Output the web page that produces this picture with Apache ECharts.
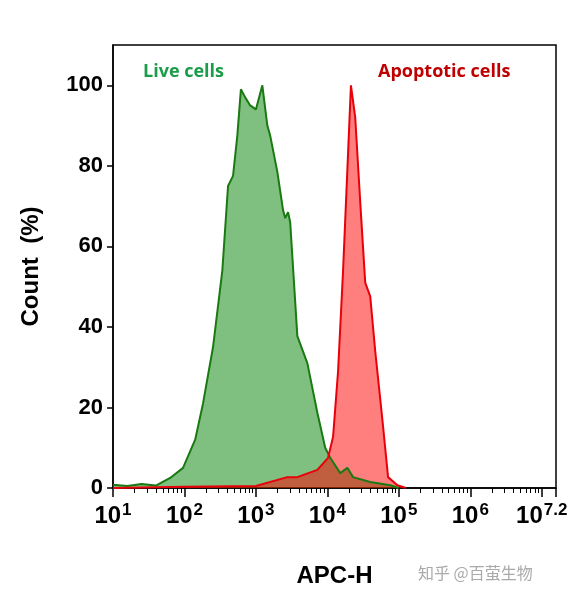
<!DOCTYPE html>
<html>
<head>
<meta charset="utf-8">
<script src="https://cdn.jsdelivr.net/npm/echarts@6/dist/echarts.min.js"></script>
<style>html,body{margin:0;padding:0;background:#fff}#c{width:588px;height:600px}</style>
</head>
<body>
<div id="c"></div>
<script>
// x values are log10(APC-H)
const liveX = [1.0, 1.2, 1.4, 1.6, 1.8, 1.98, 2.15, 2.26, 2.40, 2.53, 2.61, 2.68, 2.74, 2.79, 2.85, 2.92, 3.00, 3.09, 3.16, 3.20, 3.30, 3.38, 3.41, 3.45, 3.48, 3.58, 3.72, 3.86, 3.97, 4.04, 4.18, 4.28, 4.36, 4.60, 4.88, 5.0];
const liveY = [0.8, 0.5, 1.0, 0.6, 2.5, 5, 12, 21, 35, 54, 75, 77.5, 87.5, 99, 97, 95, 94, 100, 90, 87.5, 78.5, 69, 67, 68.5, 66, 37.7, 31, 18.7, 10, 7.5, 3.7, 5, 2.7, 1.5, 0.7, 0];
const apopX = [1.0, 2.0, 3.0, 3.44, 3.58, 3.86, 4.01, 4.08, 4.15, 4.22, 4.28, 4.33, 4.39, 4.46, 4.53, 4.60, 4.67, 4.77, 4.85, 4.98, 5.1];
const apopY = [0, 0.3, 0.5, 2.7, 2.7, 4.5, 7.5, 12.7, 29, 54, 79, 100, 92, 71, 51, 47.6, 34, 17, 2.7, 0.7, 0];
const majorTicks = [1, 2, 3, 4, 5, 6, 7, 7.2];
const labelTicks = [1, 2, 3, 4, 5, 6, 7];
const yTicks = [0, 20, 40, 60, 80, 100];

const minorTicks = [];
for (let d = 1; d < 7.2; d++) {
  for (let k = 2; k <= 9; k++) {
    const v = d + Math.log10(k);
    if (v < 7.2) minorTicks.push(v);
  }
}

const chart = echarts.init(document.getElementById('c'));
const pairs = (xs, ys) => xs.map((x, i) => [x, ys[i]]);
chart.setOption({
  animation: false,
  grid: {left: 113, right: 32, top: 45, bottom: 112, show: true, borderColor: '#000', borderWidth: 1.5},
  xAxis: [{
    type: 'value', min: 1, max: 7.2,
    name: 'APC-H', nameLocation: 'middle', nameGap: 76,
    nameTextStyle: {fontSize: 24, fontWeight: 'bold', color: '#000', fontFamily: 'Liberation Sans'},
    axisLine: {lineStyle: {color: '#000', width: 1.5}},
    axisTick: {customValues: majorTicks, length: 9, lineStyle: {color: '#000', width: 1.5}},
    splitLine: {show: false},
    axisLabel: {
      customValues: labelTicks, margin: 14, hideOverlap: false,
      formatter: v => '{b|10}{s|' + (v === 7 ? '7.2' : v) + '}',
      rich: {
        b: {fontSize: 24, fontWeight: 'bold', color: '#000', fontFamily: 'Liberation Sans'},
        s: {fontSize: 17, fontWeight: 'bold', color: '#000', fontFamily: 'Liberation Sans', verticalAlign: 'top', padding: [0, 0, 12, 1]}
      }
    }
  }, {
    type: 'value', min: 1, max: 7.2, position: 'bottom',
    axisLine: {show: false},
    axisTick: {customValues: minorTicks, length: 5, lineStyle: {color: '#000', width: 1}},
    axisLabel: {show: false}, splitLine: {show: false}
  }],
  yAxis: {
    type: 'value', min: 0, max: 110,
    name: 'Count  (%)', nameLocation: 'middle', nameGap: 70, nameRotate: 90,
    nameTextStyle: {fontSize: 24, fontWeight: 'bold', color: '#000', fontFamily: 'Liberation Sans'},
    axisLine: {show: true, lineStyle: {color: '#000', width: 1.5}},
    axisTick: {show: true, customValues: yTicks, length: 6, lineStyle: {color: '#000', width: 1.5}},
    axisLabel: {customValues: yTicks, fontSize: 22, fontWeight: 'bold', color: '#000', fontFamily: 'Liberation Sans', margin: 10},
    splitLine: {show: false}
  },
  series: [{
    type: 'line', data: pairs(liveX, liveY), symbol: 'none',
    lineStyle: {color: '#1a7a12', width: 2},
    areaStyle: {color: 'rgba(0,128,0,0.5)', opacity: 1}
  }, {
    type: 'line', data: pairs(apopX, apopY), symbol: 'none',
    lineStyle: {color: '#e8000a', width: 2},
    areaStyle: {color: 'rgba(255,0,0,0.5)', opacity: 1}
  }],
  graphic: [
    {type: 'text', left: 143, top: 63, style: {text: 'Live cells', fontSize: 18, fontWeight: 'bold', fill: '#1a9c4a', fontFamily: 'Open Sans'}},
    {type: 'text', left: 378, top: 63, style: {text: 'Apoptotic cells', fontSize: 18, fontWeight: 'bold', fill: '#c00000', fontFamily: 'Open Sans'}},
    {type: 'text', left: 418, top: 565, style: {text: '知乎 @百萤生物', fontSize: 16, fill: '#aaaaaa', fontFamily: 'Noto Sans CJK SC'}}
  ]
});
</script>
</body>
</html>
